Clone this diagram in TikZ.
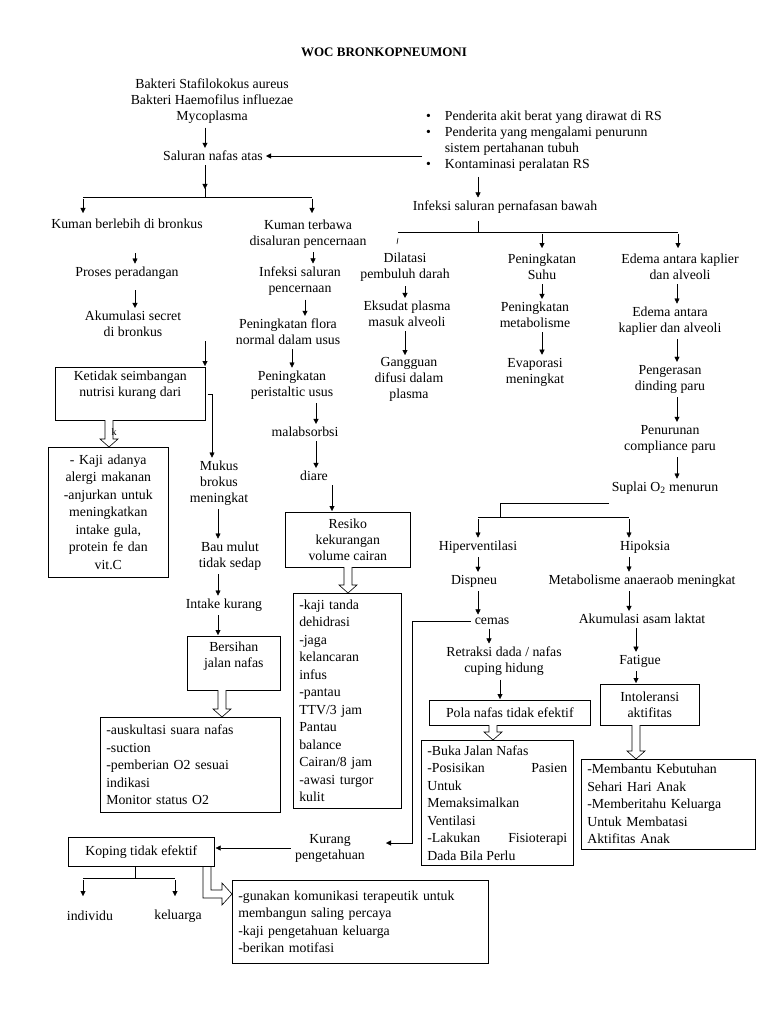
\documentclass[tikz,border=0pt]{standalone}
\usepackage{fontspec}
\setmainfont{Liberation Serif}
\usetikzlibrary{arrows.meta}
\newcommand{\myharrow}[3]{\draw[line width=0.6pt, fill=white] (#1-4,#2) -- (#1-4,#3-8) -- (#1-9,#3-8) -- (#1,#3) -- (#1+9,#3-8) -- (#1+4,#3-8) -- (#1+4,#2);}
\begin{document}
\begin{tikzpicture}[x=1pt,y=-1pt,
  every node/.style={font=\fontsize{13.8}{16}\selectfont, align=center, inner sep=2pt},
  box/.style={draw, line width=0.6pt, inner sep=3pt},
  lbox/.style={draw, line width=0.6pt, align=left, inner sep=5pt, anchor=north west, font=\fontsize{13.8}{17.5}\selectfont},
  ar/.style={-{Triangle[length=5pt,width=5pt]}, line width=0.4pt, shorten >=1pt, shorten <=2pt},
  ln/.style={line width=0.8pt}]
\useasboundingbox (0,0) rectangle (768,1024);
\node[font=\fontsize{13}{15}\selectfont\bfseries] (title) at (384,52) {WOC BRONKOPNEUMONI};
\node (bak) at (212,101) {Bakteri Stafilokokus aureus\\Bakteri Haemofilus influezae\\Mycoplasma};
\node (sal) at (213,156) {Saluran nafas atas};
\node[align=left, anchor=west] (pend) at (424,141) {%
\textbullet\quad Penderita akit berat yang dirawat di RS\\
\textbullet\quad Penderita yang mengalami penurunn\\
\phantom{\textbullet}\quad sistem pertahanan tubuh\\
\textbullet\quad Kontaminasi peralatan RS};
\node (isb) at (505,207) {Infeksi saluran pernafasan bawah};
\draw[ar] (pend.west |- sal) -- (sal.east);
\coordinate (pb) at (478,175);
\draw[ar] (pb) -- (isb.north -| 478,0);
% left tree
\draw[ar] (bak.south -| 205,0) -- (sal.north -| 205,0);
\draw[ar] (sal.south -| 205,0) -- (205,190);
\draw[ln] (205,188) -- (205,197);
\draw[ln] (83,197) -- (312,197);
\node (kb) at (127,224) {Kuman berlebih di bronkus};
\node (kt) at (308,234) {Kuman terbawa\\disaluran pencernaan};
\draw[ar] (83,197) -- (83,214);
\draw[ar] (312,197) -- (312,214);
\node (pp) at (127,273) {Proses peradangan};
\node (as) at (133,324) {Akumulasi secret\\di bronkus};
\draw[ar] (135,251) -- (pp.north -| 135,0);
\draw[ar] (135,288) -- (as.north -| 135,0);
\node[box, minimum width=150, minimum height=53, anchor=north west, text depth=20pt] (kets) at (55,367) {Ketidak seimbangan\\nutrisi kurang dari};
\draw[ar] (as.south -| 205,0) -- (205,367);
\node[lbox, align=center, minimum width=120, minimum height=130, text width=110] (kaji) at (48,447) {- Kaji adanya\\alergi makanan\\-anjurkan untuk\\meningkatkan\\intake gula,\\protein fe dan\\vit.C};
\myharrow{109}{420}{447}
\node[font=\fontsize{10}{10}\selectfont] (k) at (114,432) {k};
\node (muk) at (219,483) {Mukus\\brokus\\meningkat};
\draw[ar] (kets.east |- 0,394) -- (212,394) -- (muk.north -| 212,0);
\node (bau) at (230,556) {Bau mulut\\tidak sedap};
\draw[ar] (muk.south -| 218,0) -- (bau.north -| 218,0);
\node (ik) at (224,605) {Intake kurang};
\draw[ar] (bau.south -| 218,0) -- (ik.north -| 218,0);
\node[box, minimum width=93, minimum height=54, anchor=north west, text depth=18pt] (bers) at (187,636) {Bersihan\\jalan nafas};
\draw[ar] (ik.south -| 218,0) -- (bers.north -| 218,0);
\node[lbox, minimum width=180, minimum height=95, text width=168] (ausk) at (100,717) {-auskultasi suara nafas\\-suction\\-pemberian O2 sesuai\\indikasi\\Monitor status O2};
\myharrow{222}{690}{717}
% middle column
\node (isp) at (300,281) {Infeksi saluran\\pencernaan};
\draw[ar] (kt.south -| 313,0) -- (isp.north -| 313,0);
\node (pf) at (288,332) {Peningkatan flora\\normal dalam usus};
\draw[ar] (isp.south -| 305,0) -- (pf.north -| 305,0);
\node (pu) at (292,385) {Peningkatan\\peristaltic usus};
\draw[ar] (pf.south -| 292,0) -- (pu.north -| 292,0);
\node (mal) at (305,432) {malabsorbsi};
\draw[ar] (pu.south -| 316,0) -- (mal.north -| 316,0);
\node (dia) at (314,476) {diare};
\draw[ar] (mal.south -| 316,0) -- (dia.north -| 316,0);
\node[box, minimum width=125, minimum height=55, anchor=north west] (res) at (285,512) {Resiko\\kekurangan\\volume cairan};
\draw[ar] (dia.south -| 332,0) -- (res.north -| 332,0);
\node[lbox, minimum width=108, minimum height=215, text width=96] (kt2) at (293,593) {-kaji tanda\\dehidrasi\\-jaga\\kelancaran\\infus\\-pantau\\TTV/3 jam\\Pantau\\balance\\Cairan/8 jam\\-awasi turgor\\kulit};
\myharrow{348}{567}{593}
% right tree
\draw[ln] (478,221) -- (478,232);
\draw[ln] (398,232) -- (678,232);
\draw[line width=0.6pt] (398,238) -- (397,244);
\node (dil) at (405,267) {Dilatasi\\pembuluh darah};
\node (suhu) at (542,267) {Peningkatan\\Suhu};
\node (ed1) at (680,267) {Edema antara kaplier\\dan alveoli};
\draw[ar] (542,232) -- (542,249);
\draw[ar] (678,232) -- (678,249);
\node (eks) at (407,314) {Eksudat plasma\\masuk alveoli};
\draw[ar] (405,284) -- (eks.north -| 405,0);
\node (gan) at (409,379) {Gangguan\\difusi dalam\\plasma};
\draw[ar] (eks.south -| 405,0) -- (405,356);
\node (pm) at (535,315) {Peningkatan\\metabolisme};
\draw[ar] (suhu.south -| 542,0) -- (pm.north -| 542,0);
\node (eva) at (535,372) {Evaporasi\\meningkat};
\draw[ar] (pm.south -| 542,0) -- (eva.north -| 542,0);
\node (ed2) at (670,321) {Edema antara\\kaplier dan alveoli};
\draw[ar] (ed1.south -| 677,0) -- (ed2.north -| 677,0);
\node (pd) at (670,379) {Pengerasan\\dinding paru};
\draw[ar] (ed2.south -| 677,0) -- (pd.north -| 677,0);
\node (pc) at (670,439) {Penurunan\\compliance paru};
\draw[ar] (pd.south -| 677,0) -- (pc.north -| 677,0);
\node (sup) at (665,488) {Suplai O\textsubscript{2} menurun};
\draw[ar] (pc.south -| 677,0) -- (sup.north -| 677,0);
\draw[ln] (609,503) -- (500,503) -- (500,517);
\draw[ln] (478,517) -- (629,517);
\node (hip) at (478,547) {Hiperventilasi};
\node (hipo) at (645,547) {Hipoksia};
\draw[ar] (478,517) -- (hip.north);
\draw[ar] (629,517) -- (hipo.north -| 629,0);
\node (dis) at (474,581) {Dispneu};
\draw[ar] (hip.south -| 478,0) -- (dis.north -| 478,0);
\node (met) at (642,581) {Metabolisme anaeraob meningkat};
\draw[ar] (hipo.south -| 629,0) -- (met.north -| 629,0);
\node (cem) at (492,621) {cemas};
\draw[ar] (dis.south -| 478,0) -- (cem.north -| 478,0);
\node (aal) at (642,619) {Akumulasi asam laktat};
\draw[ar] (met.south -| 629,0) -- (aal.north -| 629,0);
\node (ret) at (504,661) {Retraksi dada / nafas\\cuping hidung};
\draw[ar] (cem.south -| 489,0) -- (ret.north -| 489,0);
\node[box, minimum width=161, minimum height=25, anchor=north west, inner sep=2pt] (pola) at (429,700) {Pola nafas tidak efektif};
\draw[ar] (ret.south -| 500,0) -- (pola.north -| 500,0);
\node[lbox, minimum width=152, minimum height=120, text width=140, align=justify] (buka) at (421,740) {-Buka Jalan Nafas\\-Posisikan\hfill Pasien\\Untuk\\Memaksimalkan\\Ventilasi\\-Lakukan\hfill Fisioterapi\\Dada Bila Perlu};
\myharrow{493}{725}{740}
\node (fat) at (640,661) {Fatigue};
\draw[ar] (aal.south -| 636,0) -- (fat.north -| 636,0);
\node[box, minimum width=99, minimum height=41, anchor=north west] (into) at (600,684) {Intoleransi\\aktifitas};
\draw[ar] (fat.south -| 636,0) -- (into.north -| 636,0);
\node[lbox, minimum width=174, minimum height=89, text width=162] (mem) at (581,759) {-Membantu Kebutuhan\\Sehari Hari Anak\\-Memberitahu Keluarga\\Untuk Membatasi\\Aktifitas Anak};
\myharrow{636}{725}{759}
% bottom
\node (kp) at (330,848) {Kurang\\pengetahuan};
\draw[ar] (cem.west) -| (412,843) -- (385,843);
\node[box, minimum width=146, minimum height=29, anchor=north west] (kop) at (68,837) {Koping tidak efektif};
\draw[ar] (kp.west |- 0,848) -- (kop.east |- 0,848);
\draw[ln] (kop.south -| 135,0) -- (135,878);
\draw[ln] (83,878) -- (175,878);
\node (ind) at (90,916) {individu};
\node (kel) at (178,916) {keluarga};
\draw[ar] (83,878) -- (83,897);
\draw[ar] (175,878) -- (175,897);
\node[lbox, minimum width=256, minimum height=83, text width=244] (gun) at (232,880) {-gunakan komunikasi terapeutik untuk\\membangun saling percaya\\-kaji pengetahuan keluarga\\-berikan motifasi};
\draw[line width=0.6pt] (203,866) -- (203,898) -- (222,898) -- (222,905) -- (gun.west |- 0,894) -- (222,883) -- (222,890) -- (211,890) -- (211,866);
\end{tikzpicture}
\end{document}
